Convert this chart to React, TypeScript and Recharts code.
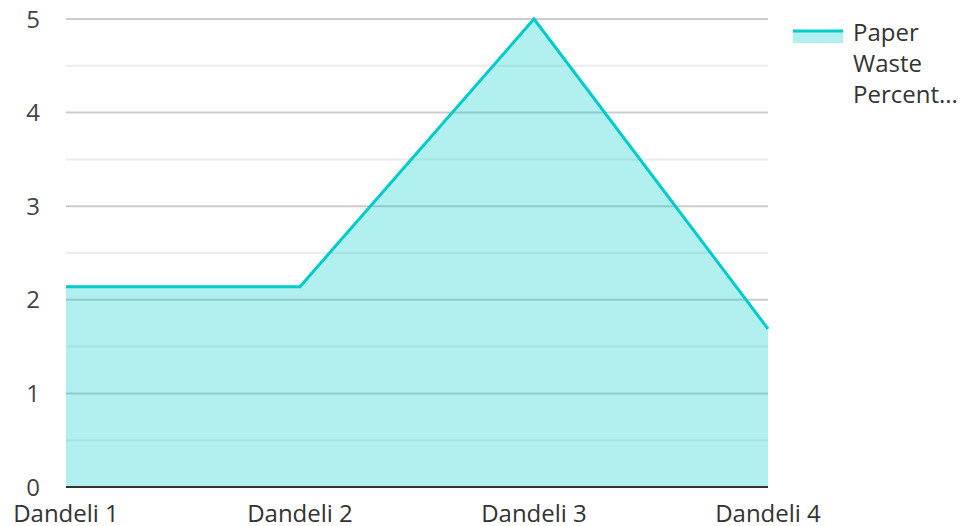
import { Area, AreaChart, CartesianGrid, XAxis, YAxis } from "recharts";

const sites = ["Dandeli 1", "Dandeli 2", "Dandeli 3", "Dandeli 4"];
const paperWaste = [2.14, 2.14, 5, 1.69];
const majorTicks = [0, 1, 2, 3, 4, 5];
const minorTicks = [0.5, 1.5, 2.5, 3.5, 4.5];
const seriesName = "Paper Waste Percent...";

const data = sites.map((site, i) => ({ site, value: paperWaste[i] }));

const FONT = "'Open Sans', 'Noto Sans', sans-serif";

function LegendBox() {
  return (
    <div
      style={{
        position: "absolute",
        left: 793,
        top: 16,
        display: "flex",
        alignItems: "flex-start",
        fontFamily: FONT,
        fontSize: 24,
        color: "#333",
      }}
    >
      <svg width={50} height={16} style={{ marginTop: 12, marginRight: 10, flexShrink: 0 }}>
        <rect x={0} y={3} width={50} height={12} fill="#00cccc" fillOpacity={0.3} />
        <line x1={0} x2={50} y1={3} y2={3} stroke="#00cccc" strokeWidth={3} />
      </svg>
      <div style={{ width: 115, lineHeight: "31px" }}>{seriesName}</div>
    </div>
  );
}

export default function App() {
  return (
    <div style={{ position: "absolute", left: 0, top: 0, width: 963, height: 526, background: "#fff" }}>
      <AreaChart width={963} height={526} data={data} margin={{ top: 19, right: 195, bottom: 0, left: 0 }}>
        <CartesianGrid vertical={false} horizontalValues={minorTicks} stroke="#ececec" strokeWidth={2} />
        <CartesianGrid vertical={false} horizontalValues={majorTicks} stroke="#cccccc" strokeWidth={2} />
        <XAxis
          dataKey="site"
          height={39}
          tickSize={0}
          tickMargin={18}
          tick={{ fontSize: 24, fill: "#333", fontFamily: FONT }}
          axisLine={{ stroke: "#333", strokeWidth: 2 }}
          interval={0}
        />
        <YAxis
          width={66}
          domain={[0, 5]}
          ticks={majorTicks}
          tickSize={0}
          tickMargin={26}
          axisLine={false}
          tick={{ fontSize: 24, fill: "#444", fontFamily: FONT }}
        />
        <Area
          type="linear"
          dataKey="value"
          name={seriesName}
          stroke="#00cccc"
          strokeWidth={3}
          fill="#00cccc"
          fillOpacity={0.3}
          isAnimationActive={false}
          dot={false}
          activeDot={false}
        />
      </AreaChart>
      <LegendBox />
    </div>
  );
}
